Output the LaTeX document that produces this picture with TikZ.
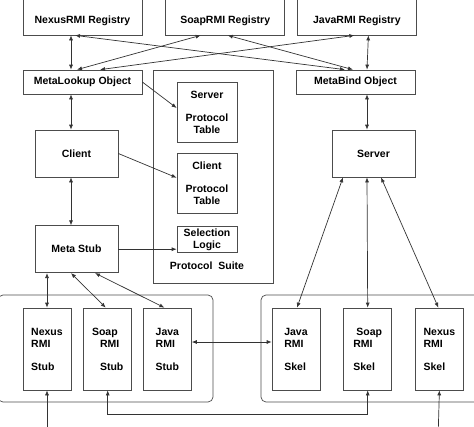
\documentclass[tikz,border=0pt]{standalone}
\usepackage{fontspec}
\setmainfont{Liberation Sans}
\usetikzlibrary{arrows.meta,positioning}

\begin{document}
\begin{tikzpicture}[
  x=1pt, y=-1pt,
  box/.style={draw=black!70, line width=0.7pt, align=center, inner sep=0pt, font=\bfseries\fontsize{10.5}{12}\selectfont},
  registry/.style={box, minimum width=119pt, minimum height=40pt, text height=17.6pt, text depth=0pt},
  meta/.style={box, minimum width=119pt, minimum height=24pt},
  role/.style={box, minimum width=83pt, minimum height=47pt},
  ptable/.style={box, minimum width=60pt, minimum height=60pt},
  rmi/.style={box, align=left, minimum width=48pt, minimum height=82pt},
  caption/.style={align=center, inner sep=2pt, font=\bfseries\fontsize{10.5}{12}\selectfont},
  group/.style={draw=black!70, line width=0.7pt, rounded corners=5pt},
  arrow/.style={-{Latex[length=5pt,width=4pt]}, line width=0.7pt, draw=black!80},
  bidir/.style={{Latex[length=5pt,width=4pt]}-{Latex[length=5pt,width=4pt]}, line width=0.7pt, draw=black!80}
]
  \useasboundingbox (0,0) rectangle (474,426);

  % registries
  \node[registry] (nexusreg) at (82.5,15) {NexusRMI Registry};
  \node[registry, right=23pt of nexusreg] (soapreg) {SoapRMI Registry};
  \node[registry, right=12pt of soapreg] (javareg) {JavaRMI Registry};

  \node[meta] (lookup) at (82.5,82) {MetaLookup Object};
  \node[meta] (bind) at (355.5,82) {MetaBind Object};

  \node[role] (client) at (76.5,153.5) {Client};
  \node[role, below=48pt of client] (metastub) {Meta Stub};
  \node[role] (server) at (373.5,153.5) {Server};

  % protocol suite
  \node[box, minimum width=120pt, minimum height=213pt] (suite) at (213,176.5) {};
  \node[ptable] (srvtab) at (207,112) {Server\\[11pt]Protocol\\Table};
  \node[ptable, below=11pt of srvtab] (clitab) {Client\\[11pt]Protocol\\Table};
  \node[box, minimum width=60pt, minimum height=26pt, below=12pt of clitab] (sel) {Selection\\Logic};
  \node[caption, below=7pt of sel] (suitename) {Protocol\ \ Suite};

  % stubs and skeletons
  \draw[group] (-2,295) rectangle (213,402);
  \draw[group] (261,295) rectangle (484,402);
  \node[rmi] (nexusstub) at (47,349) {Nexus\\RMI\\[11pt]Stub};
  \node[rmi, right=12pt of nexusstub] (soapstub) {Soap\\\hspace*{8pt}RMI\\[11pt]\hspace*{8pt}Stub};
  \node[rmi, right=11pt of soapstub] (javastub) {Java\\RMI\\[11pt]Stub};
  \node[rmi] (javaskel) at (296,349) {Java\\RMI\\[11pt]Skel};
  \node[rmi, right=23pt of javaskel] (soapskel) {\hspace*{3pt}Soap\\RMI\\[11pt]Skel};
  \node[rmi, right=23pt of soapskel] (nexusskel) {Nexus\\RMI\\[11pt]Skel};

  \coordinate (stubin) at (47,440);
  \coordinate (skelin) at (438,440);

  \draw[bidir] ([xshift=-11.5pt]nexusreg.south) -- ([xshift=-11.5pt]lookup.north);
  \draw[bidir] ([xshift=-24.5pt]soapreg.south) -- ([xshift=-5.5pt]lookup.north);
  \draw[bidir] ([xshift=-2.5pt]javareg.south) -- ([xshift=17.5pt]lookup.north);
  \draw[bidir] ([xshift=-7.5pt]nexusreg.south) -- ([xshift=-10.5pt]bind.north);
  \draw[bidir] ([xshift=2.5pt]soapreg.south) -- ([xshift=-2.5pt]bind.north);
  \draw[bidir] ([xshift=11.5pt]javareg.south) -- ([xshift=11.5pt]bind.north);

  \draw[arrow] (lookup.east) -- ([yshift=4pt]srvtab.west);
  \draw[arrow] (client.east) -- ([yshift=6pt]clitab.west);
  \draw[arrow] (metastub.east) -- (metastub.east -| sel.west);

  \draw[bidir] ([xshift=-11.5pt]lookup.south) -- ([xshift=-5.5pt]client.north);
  \draw[bidir] ([xshift=-5.5pt]client.south) -- ([xshift=-5.5pt]metastub.north);
  \draw[bidir] ([xshift=11.5pt]bind.south) -- ([xshift=-6.5pt]server.north);

  \draw[bidir] ([xshift=-29.5pt]metastub.south) -- (nexusstub.north);
  \draw[bidir] ([xshift=-5.5pt]metastub.south) -- ([xshift=-2pt]soapstub.north);
  \draw[bidir] ([xshift=18.5pt]metastub.south) -- ([xshift=-3pt]javastub.north);
  \draw[bidir] ([xshift=-30.5pt]server.south) -- ([xshift=1pt]javaskel.north);
  \draw[bidir] ([xshift=-6.5pt]server.south) -- (soapskel.north);
  \draw[bidir] ([xshift=7.5pt]server.south) -- ([xshift=-1pt]nexusskel.north);

  \draw[bidir] ([yshift=7pt]javastub.east) -- ([yshift=7pt]javaskel.west);
  \draw[bidir] (soapstub.south) -- ++(0,24) -| (soapskel.south);
  \draw[arrow] (stubin) -- (nexusstub.south);
  \draw[arrow] (skelin) -- (nexusskel.south);
\end{tikzpicture}
\end{document}
